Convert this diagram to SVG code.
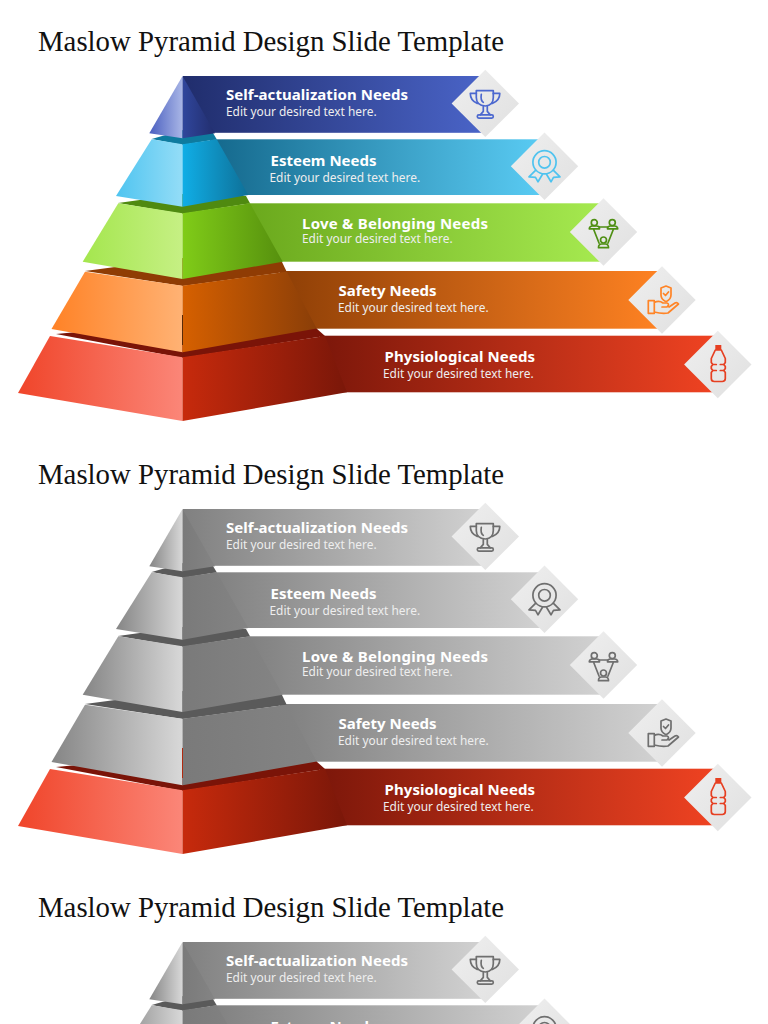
<svg xmlns="http://www.w3.org/2000/svg" xmlns:xlink="http://www.w3.org/1999/xlink" width="768" height="1024" viewBox="0 0 768 1024">
<style>
.title{font-family:"Liberation Serif","Times New Roman",serif;font-size:28.8px;fill:#111}
.h{font-family:"Noto Sans","Open Sans",sans-serif;font-size:15px;font-weight:700;fill:#fff}
.s{font-family:"Noto Sans","Open Sans",sans-serif;font-size:11.9px;fill:#eee}
.d{fill:url(#dia)}
.i{fill:none;stroke-width:1.7;stroke-linejoin:round;stroke-linecap:round}
.c1{stroke:#4c68cf}.c2{stroke:#4fc3ef}.c3{stroke:#4f8f14}.c4{stroke:#ff8426}.c5{stroke:#e63f21}.cg{stroke:#6f6f6f}
.gb{fill:url(#gband)}.gl{fill:url(#gleft)}.gr{fill:url(#gright)}.gt{fill:#5a5a5a}
.b1{fill:url(#band1)}.b2{fill:url(#band2)}.b3{fill:url(#band3)}.b4{fill:url(#band4)}.b5{fill:url(#band5)}
.l1{fill:url(#left1)}.l2{fill:url(#left2)}.l3{fill:url(#left3)}.l4{fill:url(#left4)}.l5{fill:url(#left5)}
.r1{fill:url(#right1)}.r2{fill:url(#right2)}.r3{fill:url(#right3)}.r4{fill:url(#right4)}.r5{fill:url(#right5)}
.t2{fill:#0e7b9f}.t3{fill:#4f8a10}.t4{fill:#8f3c04}.t5{fill:#7a1408}
</style>
<defs>
<linearGradient id="dia" x1="0" y1="0" x2="1" y2="1"><stop offset="0" stop-color="#efefef"/><stop offset="1" stop-color="#e0e0e0"/></linearGradient>
<linearGradient id="gband"><stop offset="0" stop-color="#808080"/><stop offset="1" stop-color="#d2d2d2"/></linearGradient>
<linearGradient id="gleft"><stop offset="0" stop-color="#858585"/><stop offset="1" stop-color="#d8d8d8"/></linearGradient>
<linearGradient id="gright"><stop offset="0" stop-color="#7a7a7a"/><stop offset="1" stop-color="#848484"/></linearGradient>
<linearGradient id="band1"><stop offset="0" stop-color="#202d6c"/><stop offset="1" stop-color="#4a64c8"/></linearGradient>
<linearGradient id="band2"><stop offset="0" stop-color="#14688c"/><stop offset="1" stop-color="#5accf4"/></linearGradient>
<linearGradient id="band3"><stop offset="0" stop-color="#6aa81c"/><stop offset="1" stop-color="#a6ea50"/></linearGradient>
<linearGradient id="band4"><stop offset="0" stop-color="#8e3f06"/><stop offset="1" stop-color="#ff8222"/></linearGradient>
<linearGradient id="band5"><stop offset="0" stop-color="#7c170a"/><stop offset="1" stop-color="#f04322"/></linearGradient>
<linearGradient id="left1"><stop offset="0" stop-color="#4a5fc0"/><stop offset="1" stop-color="#a9b6e6"/></linearGradient>
<linearGradient id="left2"><stop offset="0" stop-color="#4fc4f0"/><stop offset="1" stop-color="#94ddf7"/></linearGradient>
<linearGradient id="left3"><stop offset="0" stop-color="#a4e64e"/><stop offset="1" stop-color="#c6f084"/></linearGradient>
<linearGradient id="left4"><stop offset="0" stop-color="#ff8226"/><stop offset="1" stop-color="#ffb274"/></linearGradient>
<linearGradient id="left5"><stop offset="0" stop-color="#f0452a"/><stop offset="1" stop-color="#fb8678"/></linearGradient>
<linearGradient id="right1"><stop offset="0" stop-color="#30469c"/><stop offset="1" stop-color="#222e6e"/></linearGradient>
<linearGradient id="right2"><stop offset="0" stop-color="#10aee6"/><stop offset="1" stop-color="#0e7098"/></linearGradient>
<linearGradient id="right3"><stop offset="0" stop-color="#80cc18"/><stop offset="1" stop-color="#56900e"/></linearGradient>
<linearGradient id="right4"><stop offset="0" stop-color="#d66000"/><stop offset="1" stop-color="#8a3e08"/></linearGradient>
<linearGradient id="right5"><stop offset="0" stop-color="#c72a0c"/><stop offset="1" stop-color="#7a1709"/></linearGradient>
<g id="ic-trophy">
<path d="M-9,-12.7H8V-6Q8,2 0,2.6Q-9,2 -9,-6Z"/>
<path d="M-9,-10H-15Q-15,-3 -8,0M8,-10H14.5Q14.5,-3 7,0M-4,-9Q-5,-3 -2,-1M-2,3V8L-5,11.5M2,3V8L5,11.5"/>
<rect x="-8" y="11.5" width="16" height="3.2" rx="1.5"/>
</g>
<g id="ic-ribbon">
<circle cx="0" cy="-4" r="11.6"/>
<circle cx="0" cy="-4" r="5.8"/>
<path d="M-9,4L-15.5,10.5L-9,11L-6.5,15.5L-2,8M9,4L15.5,10.5L9,11L6.5,15.5L2,8"/>
</g>
<g id="ic-group">
<circle cx="-9.2" cy="-9.3" r="3"/><circle cx="8.8" cy="-9.3" r="3"/><circle cx="0" cy="8" r="3"/>
<path d="M-14.2,-3.2Q-14,-6 -11,-6H-7Q-4,-6 -4,-3.2ZM4,-3.2Q4,-6 7,-6H11Q14,-6 14.2,-3.2ZM-4,-5H4M-10,-3L-4.5,11M10,-3L4.5,11M-5,15.7Q-5,12 -2,12H2Q5,12 5,15.7Z"/>
</g>
<g id="ic-care">
<path d="M4,-14L9,-12V-5Q9,-0.5 4,1.7Q-1,-0.5 -1,-5V-12Z"/>
<path d="M1.5,-6.5L3.5,-4.5L6.5,-8"/>
<path d="M-13.7,0.7H-7.7V13.3H-13.7ZM-7.7,2.5Q-3,0 1,3H5Q8,4 5,7H0M-7.7,12Q0,14 6,13L16.5,4Q15,2 13,3L7,7"/>
</g>
<g id="ic-bottle">
<path d="M-3,-14.5L-7,-6V-2L-5.6,0L-7,2V4L-5.6,6L-7,8V14Q-7,17 -4,17H4Q7,17 7,14V8L5.6,6L7,4V2L5.6,0L7,-2V-6L3,-14.5Z"/>
<path d="M-5.6,0H-2M-5.6,6H-2M5.6,0H2M5.6,6H2"/>
</g>
</defs>

<g id="slide-1">
<text class="title" x="38" y="51">Maslow Pyramid Design Slide Template</text>
<g id="connectors-1">
<rect class="b1" x="183" y="76" width="302" height="56.8"/>
<rect class="b2" x="210" y="139.3" width="334" height="55.7"/>
<rect class="b3" x="245" y="203.3" width="358" height="58.4"/>
<rect class="b4" x="280" y="271" width="382" height="57.7"/>
<rect class="b5" x="320" y="335.7" width="398" height="56.6"/>
</g>
<g id="tier-5">
<polygon class="t5" points="56,334 183,322 316,328 325,336 182.5,358"/>
<polygon class="l5" points="50,336 182.5,357.3 182.5,421 18,393"/>
<polygon class="r5" points="182.5,357.3 325,336 347,392.3 182.5,421"/>
</g>
<g id="tier-4">
<polygon class="t4" points="85,271 183,258 282,262 286.7,271.7 182.5,286"/>
<polygon class="l4" points="85,271.7 182.5,285.7 182.5,352.3 51.5,329"/>
<polygon class="r4" points="182.5,285.7 286.7,271.7 316.7,328.5 182.5,352.3"/>
<rect x="182" y="315" width="1" height="30" fill="#5a2a08"/>
</g>
<g id="tier-3">
<polygon class="t3" points="118,203 183,194 246,196 250,203.3 182.5,214"/>
<polygon class="l3" points="118.3,203.3 182.5,213.3 182.5,279 82.7,261.7"/>
<polygon class="r3" points="182.5,213.3 250,203.3 282.7,261.7 182.5,279"/>
</g>
<g id="tier-2">
<polygon class="t2" points="151.7,139 183,130 213,133 216.7,139.3 182.5,145"/>
<polygon class="l2" points="151.7,139.3 182.5,144.3 182.5,206.7 116,196"/>
<polygon class="r2" points="182.5,144.3 216.7,139.3 248.3,195 182.5,206.7"/>
</g>
<g id="tier-1">
<polygon class="l1" points="182.5,76 182.5,138.3 149.3,133.3"/>
<polygon class="r1" points="182.5,76 215,133.3 182.5,138.3"/>
</g>
<g id="label-1"><polygon class="d" points="451.6,103.4 485.3,69.7 519,103.4 485.3,137.1"/><use xlink:href="#ic-trophy" href="#ic-trophy" class="i c1" x="485.3" y="103.4"/>
<text class="h" x="226" y="100" textLength="182">Self-actualization Needs</text><text class="s" x="226" y="116">Edit your desired text here.</text></g>
<g id="label-2"><polygon class="d" points="510.8,166.3 544.5,132.6 578.2,166.3 544.5,200"/><use xlink:href="#ic-ribbon" href="#ic-ribbon" class="i c2" x="544.5" y="166.3"/>
<text class="h" x="270.5" y="166">Esteem Needs</text><text class="s" x="269.5" y="182">Edit your desired text here.</text></g>
<g id="label-3"><polygon class="d" points="569.8,232 603.5,198.3 637.2,232 603.5,265.7"/><use xlink:href="#ic-group" href="#ic-group" class="i c3" x="603.5" y="232"/>
<text class="h" x="302" y="229" textLength="186">Love &amp; Belonging Needs</text><text class="s" x="302" y="243">Edit your desired text here.</text></g>
<g id="label-4"><polygon class="d" points="628.3,300 662,266.3 695.7,300 662,333.7"/><use xlink:href="#ic-care" href="#ic-care" class="i c4" x="662" y="300"/>
<text class="h" x="338.5" y="295.7">Safety Needs</text><text class="s" x="338" y="312">Edit your desired text here.</text></g>
<g id="label-5"><polygon class="d" points="684.1,364.5 717.8,330.8 751.5,364.5 717.8,398.2"/><use xlink:href="#ic-bottle" href="#ic-bottle" class="i c5" x="718.3" y="364.5"/><rect x="715.3" y="345" width="6" height="5" fill="#e63f21"/>
<text class="h" x="384.5" y="362" textLength="150.5">Physiological Needs</text><text class="s" x="383" y="378">Edit your desired text here.</text></g>
</g>

<g id="slide-2" transform="translate(0,433)">
<text class="title" x="38" y="51">Maslow Pyramid Design Slide Template</text>
<g id="connectors-2">
<rect class="gb" x="183" y="76" width="302" height="56.8"/>
<rect class="gb" x="210" y="139.3" width="334" height="55.7"/>
<rect class="gb" x="245" y="203.3" width="358" height="58.4"/>
<rect class="gb" x="280" y="271" width="382" height="57.7"/>
<rect class="b5" x="320" y="335.7" width="398" height="56.6"/>
</g>
<g id="s2-tier-5">
<polygon class="t5" points="56,334 183,322 316,328 325,336 182.5,358"/>
<polygon class="l5" points="50,336 182.5,357.3 182.5,421 18,393"/>
<polygon class="r5" points="182.5,357.3 325,336 347,392.3 182.5,421"/>
</g>
<g id="s2-tier-4">
<polygon class="gt" points="85,271 183,258 282,262 286.7,271.7 182.5,286"/>
<polygon class="gl" points="85,271.7 182.5,285.7 182.5,352.3 51.5,329"/>
<polygon class="gr" points="182.5,285.7 286.7,271.7 316.7,328.5 182.5,352.3"/>
<rect x="182" y="315" width="1" height="30" fill="#b02a10"/>
</g>
<g id="s2-tier-3">
<polygon class="gt" points="118,203 183,194 246,196 250,203.3 182.5,214"/>
<polygon class="gl" points="118.3,203.3 182.5,213.3 182.5,279 82.7,261.7"/>
<polygon class="gr" points="182.5,213.3 250,203.3 282.7,261.7 182.5,279"/>
</g>
<g id="s2-tier-2">
<polygon class="gt" points="151.7,139 183,130 213,133 216.7,139.3 182.5,145"/>
<polygon class="gl" points="151.7,139.3 182.5,144.3 182.5,206.7 116,196"/>
<polygon class="gr" points="182.5,144.3 216.7,139.3 248.3,195 182.5,206.7"/>
</g>
<g id="s2-tier-1">
<polygon class="gl" points="182.5,76 182.5,138.3 149.3,133.3"/>
<polygon class="gr" points="182.5,76 215,133.3 182.5,138.3"/>
</g>
<g id="s2-label-1"><polygon class="d" points="451.6,103.4 485.3,69.7 519,103.4 485.3,137.1"/><use xlink:href="#ic-trophy" href="#ic-trophy" class="i cg" x="485.3" y="103.4"/>
<text class="h" x="226" y="100" textLength="182">Self-actualization Needs</text><text class="s" x="226" y="116">Edit your desired text here.</text></g>
<g id="s2-label-2"><polygon class="d" points="510.8,166.3 544.5,132.6 578.2,166.3 544.5,200"/><use xlink:href="#ic-ribbon" href="#ic-ribbon" class="i cg" x="544.5" y="166.3"/>
<text class="h" x="270.5" y="166">Esteem Needs</text><text class="s" x="269.5" y="182">Edit your desired text here.</text></g>
<g id="s2-label-3"><polygon class="d" points="569.8,232 603.5,198.3 637.2,232 603.5,265.7"/><use xlink:href="#ic-group" href="#ic-group" class="i cg" x="603.5" y="232"/>
<text class="h" x="302" y="229" textLength="186">Love &amp; Belonging Needs</text><text class="s" x="302" y="243">Edit your desired text here.</text></g>
<g id="s2-label-4"><polygon class="d" points="628.3,300 662,266.3 695.7,300 662,333.7"/><use xlink:href="#ic-care" href="#ic-care" class="i cg" x="662" y="300"/>
<text class="h" x="338.5" y="295.7">Safety Needs</text><text class="s" x="338" y="312">Edit your desired text here.</text></g>
<g id="s2-label-5"><polygon class="d" points="684.1,364.5 717.8,330.8 751.5,364.5 717.8,398.2"/><use xlink:href="#ic-bottle" href="#ic-bottle" class="i c5" x="718.3" y="364.5"/><rect x="715.3" y="345" width="6" height="5" fill="#e63f21"/>
<text class="h" x="384.5" y="362" textLength="150.5">Physiological Needs</text><text class="s" x="383" y="378">Edit your desired text here.</text></g>
</g>

<g id="slide-3" transform="translate(0,866)">
<text class="title" x="38" y="51">Maslow Pyramid Design Slide Template</text>
<g id="connectors-3">
<rect class="gb" x="183" y="76" width="302" height="56.8"/>
<rect class="gb" x="210" y="139.3" width="334" height="55.7"/>
</g>
<g id="s3-tier-2">
<polygon class="gt" points="151.7,139 183,130 213,133 216.7,139.3 182.5,145"/>
<polygon class="gl" points="151.7,139.3 182.5,144.3 182.5,206.7 116,196"/>
<polygon class="gr" points="182.5,144.3 216.7,139.3 248.3,195 182.5,206.7"/>
</g>
<g id="s3-tier-1">
<polygon class="gl" points="182.5,76 182.5,138.3 149.3,133.3"/>
<polygon class="gr" points="182.5,76 215,133.3 182.5,138.3"/>
</g>
<g id="s3-label-1"><polygon class="d" points="451.6,103.4 485.3,69.7 519,103.4 485.3,137.1"/><use xlink:href="#ic-trophy" href="#ic-trophy" class="i cg" x="485.3" y="103.4"/>
<text class="h" x="226" y="100" textLength="182">Self-actualization Needs</text><text class="s" x="226" y="116">Edit your desired text here.</text></g>
<g id="s3-label-2"><polygon class="d" points="510.8,166.3 544.5,132.6 578.2,166.3 544.5,200"/><use xlink:href="#ic-ribbon" href="#ic-ribbon" class="i cg" x="544.5" y="166.3"/>
<text class="h" x="270.5" y="166">Esteem Needs</text></g>
</g>
</svg>
